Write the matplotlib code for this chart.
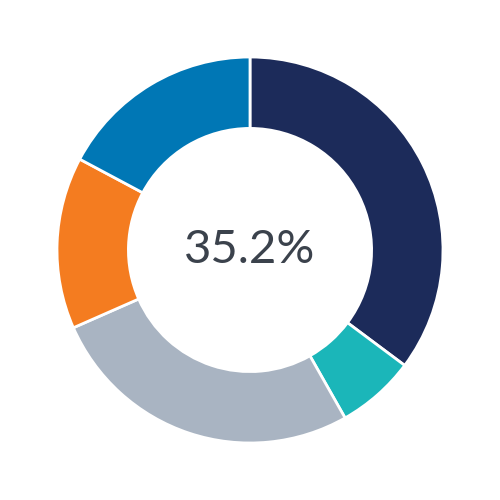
import matplotlib
matplotlib.use("Agg")
import matplotlib.pyplot as plt

# slice values (percent), clockwise from 12 o'clock
labels = ["Navy", "Teal", "Grey", "Orange", "Blue"]
values = [35.2, 6.6, 26.6, 14.4, 17.2]
colors = ["#1c2b5a", "#1bb6b9", "#a9b4c2", "#f47c20", "#0077b5"]
center_text = "35.2%"

fig = plt.figure(figsize=(5, 5), dpi=100)
ax = fig.add_axes([0, 0, 1, 1])

ax.pie(values, colors=colors, startangle=90, counterclock=False, radius=1,
       wedgeprops=dict(width=0.37, edgecolor="white", linewidth=2))

ax.text(0, 0.0, center_text, ha="center", va="center", fontsize=34,
        color="#3b424c", family="Lato", fontweight="normal")

lim = 250 / 193
ax.set_xlim(-lim, lim)
ax.set_ylim(-lim, lim)
ax.set_aspect("equal")
ax.axis("off")

fig.savefig("out.png", dpi=100, facecolor="white")
